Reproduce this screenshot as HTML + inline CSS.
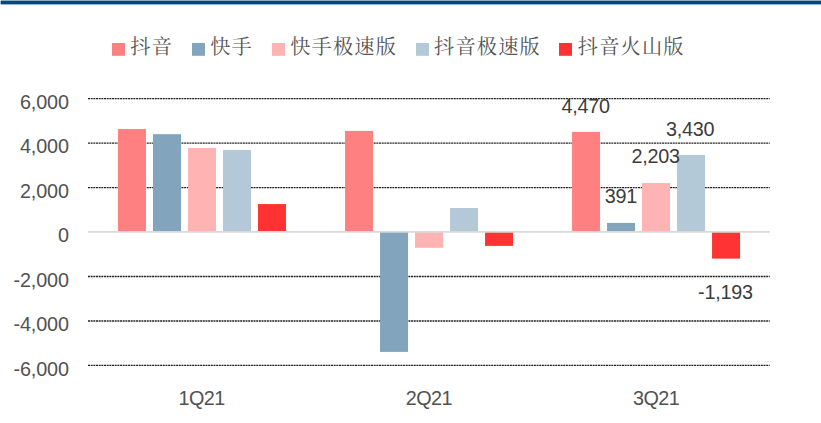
<!DOCTYPE html>
<html lang="zh"><head><meta charset="utf-8"><title>chart</title>
<style>
html,body{margin:0;padding:0;background:#fff;}
body{width:821px;height:423px;overflow:hidden;position:relative;font-family:"Liberation Sans",sans-serif;}
svg{position:absolute;left:0;top:0;display:block;}
svg text{font-family:"Liberation Sans",sans-serif;font-size:19.8px;}
svg text.lg{font-family:"Liberation Serif","Noto Serif CJK SC",serif;font-size:20.2px;letter-spacing:1.2px;}
</style></head><body>
<svg width="821" height="423" viewBox="0 0 821 423">
<rect x="0.6" y="0.55" width="820.4" height="3.85" fill="#04477e"/>
<line x1="88" x2="769.7" y1="98.65" y2="98.65" stroke="#222222" stroke-width="1.3" stroke-dasharray="2 0.67"/>
<line x1="88" x2="769.7" y1="143.12" y2="143.12" stroke="#222222" stroke-width="1.3" stroke-dasharray="2 0.67"/>
<line x1="88" x2="769.7" y1="187.58" y2="187.58" stroke="#222222" stroke-width="1.3" stroke-dasharray="2 0.67"/>
<line x1="88" x2="769.7" y1="276.52" y2="276.52" stroke="#222222" stroke-width="1.3" stroke-dasharray="2 0.67"/>
<line x1="88" x2="769.7" y1="320.98" y2="320.98" stroke="#222222" stroke-width="1.3" stroke-dasharray="2 0.67"/>
<line x1="88" x2="769.7" y1="365.45" y2="365.45" stroke="#222222" stroke-width="1.3" stroke-dasharray="2 0.67"/>
<rect x="118.00" y="129.04" width="28" height="102.81" fill="#ff8080"/>
<rect x="153.00" y="134.16" width="28" height="97.69" fill="#82a5bd"/>
<rect x="188.00" y="148.05" width="28" height="83.80" fill="#ffb3b3"/>
<rect x="223.00" y="149.94" width="28" height="81.91" fill="#b3c9d8"/>
<rect x="258.00" y="204.06" width="28" height="27.79" fill="#ff3333"/>
<rect x="345.05" y="130.91" width="28" height="100.94" fill="#ff8080"/>
<rect x="380.05" y="231.85" width="28" height="120.06" fill="#82a5bd"/>
<rect x="415.05" y="231.85" width="28" height="15.94" fill="#ffb3b3"/>
<rect x="450.05" y="208.02" width="28" height="23.83" fill="#b3c9d8"/>
<rect x="485.05" y="231.85" width="28" height="14.05" fill="#ff3333"/>
<rect x="572.05" y="131.91" width="28" height="99.94" fill="#ff8080"/>
<rect x="607.05" y="222.91" width="28" height="8.94" fill="#82a5bd"/>
<rect x="642.05" y="183.00" width="28" height="48.85" fill="#ffb3b3"/>
<rect x="677.05" y="155.01" width="28" height="76.84" fill="#b3c9d8"/>
<rect x="712.05" y="231.85" width="28" height="26.75" fill="#ff3333"/>
<line x1="88" x2="769.7" y1="231.85" y2="231.85" stroke="#d9d9d9" stroke-width="1.9"/>
<text x="68.9" y="108.90" text-anchor="end" letter-spacing="-0.1" fill="#525252">6,000</text>
<text x="68.9" y="153.37" text-anchor="end" letter-spacing="-0.1" fill="#525252">4,000</text>
<text x="68.9" y="197.83" text-anchor="end" letter-spacing="-0.1" fill="#525252">2,000</text>
<text x="68.9" y="242.30" text-anchor="end" letter-spacing="-0.1" fill="#525252">0</text>
<text x="68.9" y="286.77" text-anchor="end" letter-spacing="-0.1" fill="#525252">-2,000</text>
<text x="68.9" y="331.23" text-anchor="end" letter-spacing="-0.1" fill="#525252">-4,000</text>
<text x="68.9" y="375.70" text-anchor="end" letter-spacing="-0.1" fill="#525252">-6,000</text>
<text x="201.62" y="404.9" text-anchor="middle" letter-spacing="-0.55" fill="#525252">1Q21</text>
<text x="428.85" y="404.9" text-anchor="middle" letter-spacing="-0.55" fill="#525252">2Q21</text>
<text x="656.08" y="404.9" text-anchor="middle" letter-spacing="-0.55" fill="#525252">3Q21</text>
<text x="585.75" y="113.0" text-anchor="middle" letter-spacing="-0.25" fill="#3c3c3c">4,470</text>
<text x="620.8" y="202.9" text-anchor="middle" letter-spacing="-0.25" fill="#3c3c3c">391</text>
<text x="655.55" y="162.6" text-anchor="middle" letter-spacing="-0.25" fill="#3c3c3c">2,203</text>
<text x="690.1999999999999" y="135.6" text-anchor="middle" letter-spacing="-0.25" fill="#3c3c3c">3,430</text>
<text x="725.4" y="298.90000000000003" text-anchor="middle" letter-spacing="-0.25" fill="#3c3c3c">-1,193</text>
<rect x="112" y="43" width="13" height="12.8" fill="#ff8080"/>
<text class="lg" x="130.3" y="54.45" fill="#555555">抖音</text>
<rect x="192" y="43" width="13" height="12.8" fill="#82a5bd"/>
<text class="lg" x="210.2" y="54.45" fill="#555555">快手</text>
<rect x="272" y="43" width="13" height="12.8" fill="#ffb3b3"/>
<text class="lg" x="290.2" y="54.45" fill="#555555">快手极速版</text>
<rect x="416" y="43" width="13" height="12.8" fill="#b3c9d8"/>
<text class="lg" x="434" y="54.45" fill="#555555">抖音极速版</text>
<rect x="559" y="43" width="13" height="12.8" fill="#ff3333"/>
<text class="lg" x="577.8" y="54.45" fill="#555555">抖音火山版</text>
</svg>
</body></html>
